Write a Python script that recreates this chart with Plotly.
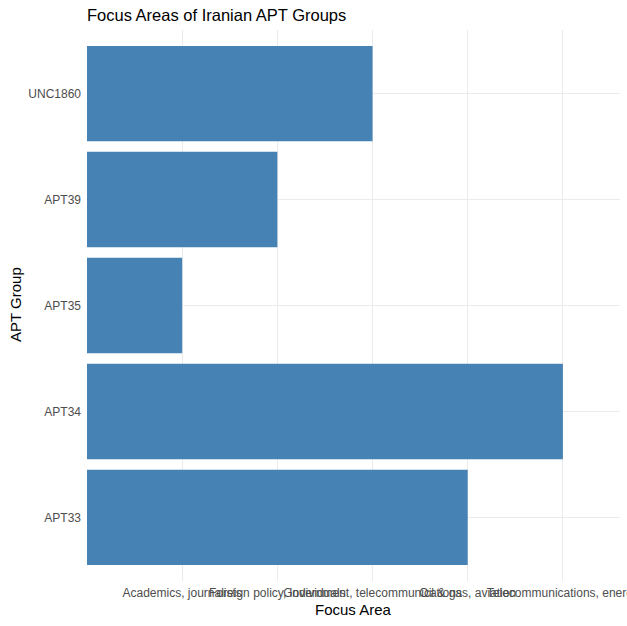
import plotly.graph_objects as go

focus_areas = [
    "Academics, journalists",
    "Foreign policy, individuals",
    "Government, telecommunications",
    "Oil & gas, aviation",
    "Telecommunications, energy",
]
apt_groups = ["APT33", "APT34", "APT35", "APT39", "UNC1860"]
group_focus = [
    "Oil & gas, aviation",
    "Telecommunications, energy",
    "Academics, journalists",
    "Foreign policy, individuals",
    "Government, telecommunications",
]

x_pos = [focus_areas.index(f) + 1 for f in group_focus]
y_pos = [i + 1 for i in range(len(apt_groups))]

FONT = "Liberation Sans, Arial, sans-serif"

fig = go.Figure(go.Bar(
    x=x_pos, y=y_pos, orientation="h", base=0,
    width=0.9, marker=dict(color="#4682B4", line=dict(width=0)),
    hovertext=group_focus,
))

W, H = 627, 626
ml, mr, mt, mb = 87, 7, 30, 45
pw, ph = W - ml - mr, H - mt - mb

fig.update_layout(
    width=W, height=H,
    margin=dict(l=ml, r=mr, t=mt, b=mb, autoexpand=False),
    plot_bgcolor="white", paper_bgcolor="white",
    showlegend=False,
    font=dict(family=FONT, color="#4d4d4d", size=12),
    title=dict(text="Focus Areas of Iranian APT Groups", x=ml / W, xanchor="left",
               xref="container", y=1 - 15 / H, yanchor="middle", yref="container",
               font=dict(size=16.5, color="black", family=FONT)),
    xaxis=dict(range=[0, 5.6], tickvals=list(range(1, len(focus_areas) + 1)),
               ticktext=focus_areas, showgrid=True, gridcolor="#ebebeb", gridwidth=1,
               zeroline=False, showline=False, ticks="", tickangle=0, automargin=False,
               ticklabelstandoff=3, ticklabeloverflow="allow",
               tickfont=dict(size=12, color="#4d4d4d"), fixedrange=True),
    yaxis=dict(range=[0.4, len(apt_groups) + 0.6], tickvals=y_pos, ticktext=apt_groups,
               showgrid=True, gridcolor="#ebebeb", gridwidth=1, zeroline=False,
               showline=False, ticks="", automargin=False, ticklabelstandoff=5,
               tickfont=dict(size=12, color="#4d4d4d")),
    annotations=[
        dict(text="Focus Area", xref="paper", yref="paper",
             x=0.5, y=(H - mb - 609) / ph, showarrow=False,
             font=dict(size=15, color="black", family=FONT),
             xanchor="center", yanchor="middle"),
        dict(text="APT Group", xref="paper", yref="paper",
             x=(15 - ml) / pw, y=(H - mb - 305) / ph, showarrow=False, textangle=-90,
             font=dict(size=15, color="black", family=FONT),
             xanchor="center", yanchor="middle"),
    ],
)

fig.write_html("out.html")
